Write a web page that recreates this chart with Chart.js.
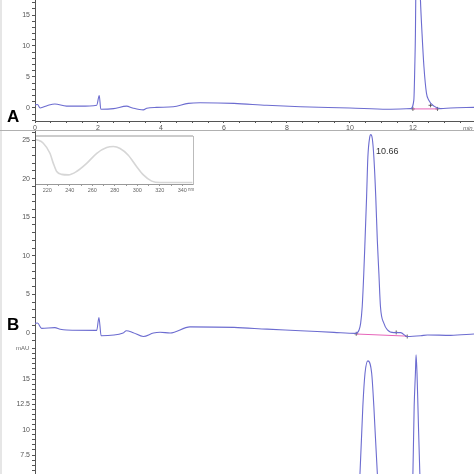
<!DOCTYPE html>
<html>
<head>
<meta charset="utf-8">
<script src="https://cdn.jsdelivr.net/npm/chart.js@4.4.1/dist/chart.umd.min.js"></script>
<style>
  html, body { margin: 0; padding: 0; background: #fff; }
  #wrap { position: relative; width: 474px; height: 474px; overflow: hidden; background: #fff;
          font-family: "Liberation Sans", Arial, sans-serif; }
  #wrap canvas { position: absolute; }
  .panel-lbl { position: absolute; font-size: 17px; font-weight: bold; line-height: 1; color: #000; }
  .small { position: absolute; font-size: 6px; line-height: 1; color: #666; }
</style>
</head>
<body>
<div id="wrap">
  <div style="position:absolute;left:0;top:0;width:2px;height:474px;background:#e6e6e6"></div>
  <canvas id="chartA" width="474" height="135" style="left:0;top:0"></canvas>
  <div style="position:absolute;left:0;top:130px;width:474px;height:1px;background:#b0b0b0"></div>
  <canvas id="chartB" width="474" height="214" style="left:0;top:131px"></canvas>
  <canvas id="chartC" width="474" height="200" style="left:0;top:345px"></canvas>
  <div style="position:absolute;left:36px;top:135px;width:157px;height:2px;background:#cccccc"></div>
  <canvas id="inset" width="158" height="60" style="left:36px;top:136px"></canvas>
  <div class="panel-lbl" style="left:7px;top:108px">A</div>
  <div class="panel-lbl" style="left:7px;top:316px">B</div>
  <div class="small" style="left:463px;top:125px;font-style:italic">min</div>
  <div class="small" style="left:188px;top:188px;font-size:4.5px">nm</div>
  <div class="small" style="left:16px;top:345px">mAU</div>
  <div style="position:absolute;left:376px;top:147px;font-size:9px;line-height:1;color:#333">10.66</div>
</div>
<script>
// Chromatograms (retention time in min, absorbance in mAU) + UV spectrum inset

const TRACE = 'rgb(108,108,208)';
const BASELINE = 'rgb(230,100,185)';
const AXIS = '#555';
const FONT = '"Liberation Sans", Arial, sans-serif';

// panel A
const timeA = [0, 0.08, 0.16, 0.4, 0.63, 1.0, 1.43, 1.96, 2.04, 2.09, 2.5, 2.91, 3.1, 3.44, 3.55, 3.86, 4.39, 4.87, 5.24, 6.32, 7.36, 8.43, 10.0, 11.19, 11.93, 12.03, 12.06, 12.08, 12.09, 12.165, 12.24, 12.29, 12.35, 12.43, 12.5, 12.67, 12.88, 13.2, 13.94];
const absA = [0.5, 0.55, 0.0, 0.4, 0.65, 0.3, 0.3, 0.45, 2.0, -0.2, -0.1, 0.3, 0.0, -0.3, -0.05, 0.1, 0.2, 0.75, 0.85, 0.75, 0.43, 0.2, 0.0, -0.2, -0.1, 1.3, 6.7, 12.0, 17.4, 30, 17.4, 12.0, 6.7, 2.4, 1.3, 0.3, -0.1, 0.0, 0.1];
const baseTimeA = [12.0, 12.78];
const baseAbsA = [-0.15, -0.15];
const markTimeA = [12.0, 12.56, 12.78];
const markAbsA = [-0.15, 0.43, -0.15];

// panel B
const timeB = [0, 0.08, 0.21, 0.63, 0.8, 1.0, 1.96, 2.03, 2.1, 2.8, 2.9, 3.12, 3.44, 3.76, 3.97, 4.29, 4.92, 6.32, 7.37, 8.43, 9.49, 10.18, 10.29, 10.34, 10.39, 10.44, 10.48, 10.53, 10.57, 10.63, 10.66, 10.71, 10.76, 10.82, 10.87, 10.92, 10.97, 11.08, 11.19, 11.4, 11.61, 11.82, 12.25, 12.46, 13.2, 13.94];
const absB = [1.25, 1.3, 0.6, 0.7, 0.5, 0.4, 0.35, 2.0, -0.35, 0.0, 0.3, 0.05, -0.45, 0.0, 0.1, 0.0, 0.8, 0.73, 0.5, 0.3, 0.08, -0.05, 0.4, 1.25, 3.4, 7.7, 12.0, 17.7, 22.8, 25.4, 25.7, 25.2, 22.8, 17.7, 12.0, 7.7, 3.4, 1.25, 0.4, 0.05, 0.05, -0.45, -0.35, -0.25, -0.3, -0.13];
const baseTimeB = [10.22, 11.81];
const baseAbsB = [-0.13, -0.4];
const markTimeB = [10.2, 11.47, 11.82];
const markAbsB = [-0.1, 0.08, -0.45];

// panel C (lower part is cut off)
const timeC = [0, 2.0, 2.04, 2.1, 10.0, 10.2, 10.32, 10.41, 10.48, 10.57, 10.69, 10.76, 10.87, 11.0, 11.2, 11.9, 12.0, 12.04, 12.08, 12.1, 12.13, 12.16, 12.22, 12.35, 12.6, 13.94];
const absC = [0.5, 0.4, 2.0, -0.2, 0.0, 0.2, 5.7, 12.3, 15.6, 16.8, 15.6, 12.3, 5.7, 0.5, 0.1, 0.0, 5.7, 12.3, 15.6, 17.4, 15.6, 12.3, 5.7, 0.5, 0.1, 0.0];

// UV spectrum inset (nm / relative absorbance)
const wavelength = [210, 216.5, 222.4, 225.4, 228.4, 232.8, 238.7, 246, 255, 264, 272.8, 278.7, 284.7, 292, 299.5, 305.4, 312.8, 320.2, 349];
const uvAbs = [93, 85, 64, 43, 26, 20, 19, 26, 43, 64, 76, 78, 74, 60, 36, 19, 6, 3, 3];

// tick labels
const timeLabels = [0, 2, 4, 6, 8, 10, 12];
const yLabelsA = [0, 5, 10, 15];
const yLabelsB = [0, 5, 10, 15, 20, 25];
const yLabelsC = [0, 2.5, 5, 7.5, 10, 12.5, 15];
const nmLabels = [220, 240, 260, 280, 300, 320, 340];

const T_MAX = 13.94;

function pts(xs, ys) {
    return xs.map((x, i) => ({ x: x, y: ys[i] }));
}

function tickList(from, to, step) {
    const out = [];
    for (let v = from; v <= to + 1e-9; v += step) out.push(Math.round(v * 100) / 100);
    return out;
}

function labelOnly(labels) {
    return function(value) {
        return labels.some(l => Math.abs(l - value) < 1e-6) ? String(value) : '';
    };
}

function noPadding(scale) {
    scale.paddingTop = 0;
    scale.paddingBottom = 0;
    scale.paddingLeft = 0;
    scale.paddingRight = 0;
}

function traceSets(times, values, baseT, baseV, markT, markV) {
    const sets = [{
        data: pts(times, values),
        borderColor: TRACE,
        borderWidth: 1.1,
        pointRadius: 0,
        cubicInterpolationMode: 'monotone'
    }];
    if (baseT) {
        sets.push({
            data: pts(baseT, baseV),
            borderColor: BASELINE,
            borderWidth: 1,
            pointRadius: 0
        });
        sets.push({
            data: pts(markT, markV),
            showLine: false,
            pointStyle: 'cross',
            pointRadius: 2,
            borderColor: '#444',
            borderWidth: 0.8
        });
    }
    return sets;
}

function makePanel(id, datasets, y, showX) {
    const ctx = document.getElementById(id).getContext('2d');
    return new Chart(ctx, {
        type: 'line',
        data: { datasets: datasets },
        options: {
            responsive: false,
            animation: false,
            events: [],
            layout: { padding: 0, autoPadding: false },
            plugins: { legend: { display: false }, tooltip: { enabled: false } },
            scales: {
                x: {
                    type: 'linear',
                    min: 0,
                    max: T_MAX,
                    display: showX,
                    afterBuildTicks: s => { s.ticks = tickList(0, 13.5, 0.5).map(v => ({ value: v })); },
                    afterFit: s => { s.height = showX ? 14 : 0; noPadding(s); },
                    border: { color: AXIS, width: 1 },
                    grid: { drawOnChartArea: false, tickLength: 2, color: AXIS },
                    ticks: {
                        autoSkip: false,
                        maxRotation: 0,
                        padding: 1,
                        color: AXIS,
                        font: { size: 7, family: FONT },
                        callback: labelOnly(timeLabels)
                    }
                },
                y: {
                    type: 'linear',
                    min: y.min,
                    max: y.max,
                    afterBuildTicks: s => { s.ticks = tickList(y.from, y.to, y.step).map(v => ({ value: v })); },
                    afterFit: s => { s.width = 35; noPadding(s); },
                    border: { color: AXIS, width: 1 },
                    grid: { drawOnChartArea: false, tickLength: 3, color: AXIS },
                    ticks: {
                        autoSkip: false,
                        padding: 2,
                        color: AXIS,
                        font: { size: 7, family: FONT },
                        callback: labelOnly(y.labels)
                    }
                }
            }
        }
    });
}

makePanel('chartA', traceSets(timeA, absA, baseTimeA, baseAbsA, markTimeA, markAbsA),
    { min: -2.1, max: 17.42, from: -2, to: 17, step: 1, labels: yLabelsA }, true);

makePanel('chartB', traceSets(timeB, absB, baseTimeB, baseAbsB, markTimeB, markAbsB),
    { min: -1.55, max: 26.17, from: -1, to: 26, step: 1, labels: yLabelsB }, false);

makePanel('chartC', traceSets(timeC, absC),
    { min: -1.39, max: 18.37, from: -1, to: 18, step: 0.5, labels: yLabelsC }, false);

// inset spectrum
new Chart(document.getElementById('inset').getContext('2d'), {
    type: 'line',
    data: {
        datasets: [{
            data: pts(wavelength, uvAbs),
            borderColor: '#d6d6d6',
            borderWidth: 1.6,
            pointRadius: 0,
            cubicInterpolationMode: 'monotone'
        }]
    },
    options: {
        responsive: false,
        animation: false,
        events: [],
        layout: { padding: 0, autoPadding: false },
        plugins: { legend: { display: false }, tooltip: { enabled: false } },
        scales: {
            x: {
                type: 'linear',
                min: 210,
                max: 349.5,
                afterBuildTicks: s => { s.ticks = tickList(220, 340, 10).map(v => ({ value: v })); },
                afterFit: s => { s.height = 12; noPadding(s); },
                border: { color: '#999', dash: [1, 2] },
                grid: { drawOnChartArea: false, tickLength: 2, color: '#999' },
                ticks: {
                    autoSkip: false,
                    maxRotation: 0,
                    padding: 1,
                    color: '#666',
                    font: { size: 5.5, family: FONT },
                    callback: labelOnly(nmLabels)
                }
            },
            y: {
                type: 'linear',
                position: 'right',
                min: 0,
                max: 100,
                afterFit: s => { s.width = 1; noPadding(s); },
                border: { color: '#bbb', dash: [1, 2] },
                grid: { drawOnChartArea: false, drawTicks: false },
                ticks: { display: false }
            }
        }
    }
});
</script>
</body>
</html>
